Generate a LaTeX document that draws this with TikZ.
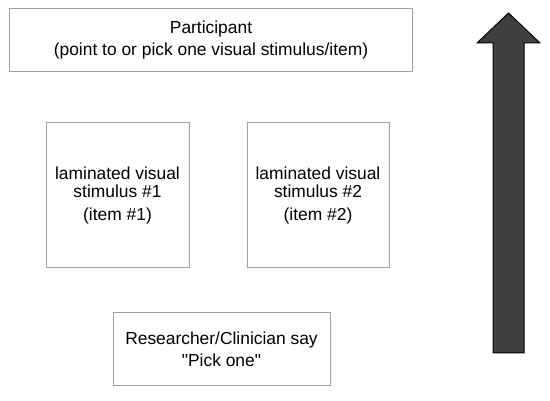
\documentclass[tikz,border=0pt]{standalone}
\usepackage{fontspec}
\setmainfont{Liberation Sans}[Ligatures=TeXOff]
\definecolor{boxgrey}{HTML}{A0A0A0}
\definecolor{arrowfill}{HTML}{404040}
\tikzset{
  box/.style={draw=boxgrey, line width=1pt, fill=white, align=center,
    inner sep=0pt, font=\fontsize{17.4}{18}\selectfont},
}
\begin{document}
\begin{tikzpicture}[x=1pt,y=-1pt]
\useasboundingbox (0,0) rectangle (550,401);
% Participant box
\node[box, minimum width=403pt, minimum height=63pt] (part) at (211,40.5)
  {Participant\\[4pt](point to or pick one visual stimulus/item)};
% Stimulus boxes
\node[box, minimum width=143pt, minimum height=145pt] (stim1) at (117.5,195.5)
  {laminated visual\\stimulus \#1\\[5pt](item \#1)};
\node[box, minimum width=142pt, minimum height=145pt] (stim2) at (318,195.5)
  {laminated visual\\stimulus \#2\\[5pt](item \#2)};
% Researcher box
\node[box, minimum width=217pt, minimum height=73pt] (res) at (221.5,349.5)
  {Researcher/Clinician say\\[4pt]"Pick one"};
% Big upward arrow
\draw[draw=black, line width=1pt, fill=arrowfill, line join=miter]
  (493,353) -- (493,43) -- (477,43) -- (508.5,13) -- (540,43) -- (524,43) -- (524,353) -- cycle;
\end{tikzpicture}
\end{document}
